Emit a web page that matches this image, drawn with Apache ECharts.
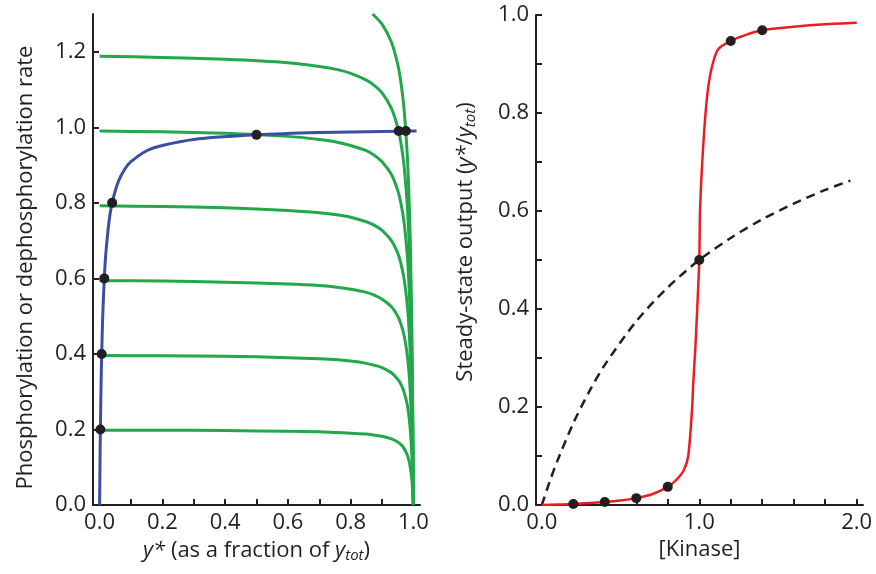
<!DOCTYPE html>
<html>
<head>
<meta charset="utf-8">
<script src="https://cdn.jsdelivr.net/npm/echarts@6/dist/echarts.min.js"></script>
<style>
html, body { margin: 0; background: #fff; }
#chart { width: 876px; height: 574px; }
</style>
</head>
<body>
<div id="chart"></div>
<script>
'use strict';

// left panel: rates against y* (fraction of y_tot)
var rateX = [0, 0.2, 0.4, 0.6, 0.7, 0.75, 0.8, 0.85, 0.875, 0.9, 0.93, 0.95, 0.96, 0.97, 0.98, 0.985, 0.99, 0.995, 0.998, 1.0];
var green02 = [0.198, 0.198, 0.197, 0.195, 0.194, 0.192, 0.190, 0.188, 0.185, 0.182, 0.175, 0.167, 0.16, 0.15, 0.133, 0.12, 0.1, 0.067, 0.033, 0];
var green04 = [0.396, 0.395, 0.394, 0.390, 0.387, 0.385, 0.381, 0.375, 0.370, 0.364, 0.35, 0.333, 0.32, 0.3, 0.267, 0.24, 0.2, 0.133, 0.067, 0];
var green06 = [0.594, 0.593, 0.590, 0.585, 0.581, 0.577, 0.571, 0.563, 0.556, 0.545, 0.525, 0.5, 0.48, 0.45, 0.4, 0.36, 0.3, 0.2, 0.1, 0];
var green08 = [0.792, 0.790, 0.787, 0.780, 0.774, 0.769, 0.762, 0.75, 0.741, 0.727, 0.7, 0.667, 0.64, 0.6, 0.533, 0.48, 0.4, 0.267, 0.133, 0];
var green10 = [0.990, 0.988, 0.984, 0.976, 0.968, 0.962, 0.952, 0.938, 0.926, 0.909, 0.875, 0.833, 0.8, 0.75, 0.667, 0.6, 0.5, 0.333, 0.167, 0];
var green12 = [1.188, 1.185, 1.180, 1.171, 1.161, 1.154, 1.143, 1.125, 1.111, 1.091, 1.05, 1.0, 0.96, 0.9, 0.8, 0.72, 0.6, 0.4, 0.2, 0];
var steepX = [0.87, 0.9, 0.93, 0.95, 0.96, 0.97, 0.98, 0.985, 0.99, 0.995, 0.998, 1.0];
var green14 = [1.3, 1.273, 1.225, 1.167, 1.12, 1.05, 0.933, 0.84, 0.7, 0.467, 0.233, 0];
var blueX = [0, 0.0025, 0.005, 0.0067, 0.01, 0.015, 0.02, 0.03, 0.04, 0.06, 0.08, 0.1, 0.15, 0.2, 0.3, 0.5, 0.7, 0.9, 1.0, 1.01];
var blueY = [0, 0.2, 0.333, 0.4, 0.5, 0.6, 0.667, 0.75, 0.8, 0.857, 0.889, 0.909, 0.938, 0.952, 0.968, 0.98, 0.986, 0.989, 0.99, 0.99];
var leftDotX = [0.0025, 0.0067, 0.015, 0.04, 0.5, 0.953, 0.976];
var leftDotY = [0.2, 0.4, 0.6, 0.8, 0.98, 0.99, 0.99];

// right panel: steady-state output against kinase
var kinaseX = [0, 0.1, 0.2, 0.3, 0.4, 0.5, 0.6, 0.7, 0.8, 0.85, 0.9, 0.93, 0.955, 0.962, 0.975, 0.987, 1.0, 1.005, 1.019, 1.04, 1.06, 1.085, 1.12, 1.2, 1.3, 1.4, 1.6, 1.8, 2.0];
var outputY = [0, 0.001, 0.002, 0.004, 0.006, 0.009, 0.014, 0.022, 0.037, 0.05, 0.07, 0.1, 0.2, 0.25, 0.32, 0.4, 0.5, 0.6, 0.7, 0.8, 0.86, 0.9, 0.93, 0.947, 0.96, 0.969, 0.976, 0.981, 0.984];
var dashX = [0, 0.05, 0.1, 0.2, 0.3, 0.4, 0.6, 0.8, 1.0, 1.2, 1.4, 1.6, 1.8, 1.96];
var dashY = [0, 0.048, 0.091, 0.167, 0.231, 0.286, 0.375, 0.444, 0.5, 0.545, 0.583, 0.615, 0.643, 0.662];
var rightDotX = [0.2, 0.4, 0.6, 0.8, 1.0, 1.2, 1.4];
var rightDotY = [0.002, 0.006, 0.014, 0.037, 0.5, 0.947, 0.969];

// tick labels
var leftXLabels = [0, 0.2, 0.4, 0.6, 0.8, 1.0];
var leftXTicks = [0.1, 0.2, 0.3, 0.4, 0.5, 0.6, 0.7, 0.8, 0.9, 1.0];
var leftYLabels = [0, 0.2, 0.4, 0.6, 0.8, 1.0, 1.2];
var rightXLabels = [0, 1.0, 2.0];
var rightXTicks = [0.2, 0.4, 0.6, 0.8, 1.0, 1.2, 1.4, 1.6, 1.8, 2.0];
var rightYLabels = [0, 0.2, 0.4, 0.6, 0.8, 1.0];
var rightYTicks = [0.1, 0.2, 0.3, 0.4, 0.5, 0.6, 0.7, 0.8, 0.9, 1.0];

var INK = '#231f20';
var GREEN = '#22a84a';
var FONT = 'Open Sans';

function pairs(xs, ys) {
    return xs.map(function (x, i) { return [x, ys[i]]; });
}

function fmt(v) {
    return v.toFixed(1);
}

var nameRich = {
    i: { fontStyle: 'italic' },
    sub: { fontSize: 15, fontStyle: 'italic', padding: [10, 0, 0, 0] }
};

function makeAxis(gridIndex, min, max, labels, ticks, extra, namePad) {
    return Object.assign({
        type: 'value',
        gridIndex: gridIndex,
        min: min,
        max: max,
        splitLine: { show: false },
        axisLine: { onZero: false, lineStyle: { color: INK, width: 2 } },
        axisTick: { inside: true, length: 6, customValues: ticks, lineStyle: { color: INK, width: 2 } },
        axisLabel: { customValues: labels, formatter: fmt, color: INK, fontSize: 22, fontFamily: FONT, margin: 7 },
        nameLocation: 'middle',
        nameTextStyle: { color: INK, fontSize: 22, fontFamily: FONT, rich: nameRich, padding: namePad || 0 }
    }, extra);
}

function greenLine(xs, ys) {
    return {
        type: 'line', xAxisIndex: 0, yAxisIndex: 0,
        data: pairs(xs, ys), showSymbol: false, smooth: 0.25,
        lineStyle: { color: GREEN, width: 3 }, z: 2
    };
}

function dots(axis, xs, ys) {
    return {
        type: 'scatter', xAxisIndex: axis, yAxisIndex: axis,
        data: pairs(xs, ys), symbolSize: 10,
        itemStyle: { color: INK, opacity: 1 }, z: 5
    };
}

var chart = echarts.init(document.getElementById('chart'), null, { renderer: 'canvas' });

chart.setOption({
    animation: false,
    backgroundColor: '#fff',
    grid: [
        { left: 93, top: 14, width: 327, height: 491 },
        { left: 536, top: 15, width: 327, height: 490 }
    ],
    xAxis: [
        makeAxis(0, -0.021, 1.021, leftXLabels, leftXTicks, {
            name: '{i|y*} (as a fraction of {i|y}{sub|tot})', nameGap: 33
        }),
        makeAxis(1, -0.037, 2.04, rightXLabels, rightXTicks, {
            name: '[Kinase]', nameGap: 33
        })
    ],
    yAxis: [
        makeAxis(0, 0, 1.3, leftYLabels, leftYLabels, {
            name: 'Phosphorylation or dephosphorylation rate', nameGap: 56
        }, [0, 16, 0, 0]),
        makeAxis(1, 0, 1.0, rightYLabels, rightYTicks, {
            name: 'Steady-state output ({i|y*}/{i|y}{sub|tot})', nameGap: 58
        }, [0, 0, 0, 36])
    ],
    series: [
        greenLine(rateX, green02),
        greenLine(rateX, green04),
        greenLine(rateX, green06),
        greenLine(rateX, green08),
        greenLine(rateX, green10),
        greenLine(rateX, green12),
        greenLine(steepX, green14),
        {
            type: 'line', xAxisIndex: 0, yAxisIndex: 0,
            data: pairs(blueX, blueY), showSymbol: false, smooth: 0.25,
            lineStyle: { color: '#3b4ea2', width: 3 }, z: 3
        },
        dots(0, leftDotX, leftDotY),
        {
            type: 'line', xAxisIndex: 1, yAxisIndex: 1,
            data: pairs(dashX, dashY), showSymbol: false, smooth: 0.3,
            lineStyle: { color: INK, width: 2.5, type: [9, 6] }, z: 2
        },
        {
            type: 'line', xAxisIndex: 1, yAxisIndex: 1,
            data: pairs(kinaseX, outputY), showSymbol: false, smooth: 0.25,
            lineStyle: { color: '#ec1c24', width: 2.5 }, z: 3
        },
        dots(1, rightDotX, rightDotY)
    ]
});
</script>
</body>
</html>
